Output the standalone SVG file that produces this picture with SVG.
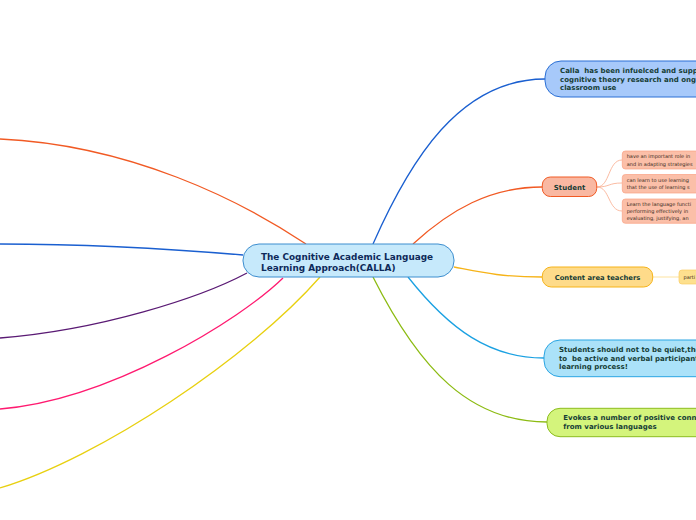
<svg xmlns="http://www.w3.org/2000/svg" width="696" height="520" viewBox="0 0 696 520">
<style>
.c{fill:none;stroke-width:1.3}
.t{font-family:"DejaVu Sans",Verdana,sans-serif;font-weight:bold;fill:#163d36;white-space:pre}
.s{font-family:"DejaVu Sans",Verdana,sans-serif;font-size:5px;fill:#3a2a20}
</style>
<rect width="696" height="520" fill="#ffffff"/>
<g id="connectors">
<path class="c" stroke="#f15a24" d="M306,244 C240,200 130,145 0,139"/>
<path class="c" stroke="#1a5fd0" d="M243,255 C160,248 80,244 0,244"/>
<path class="c" stroke="#5a1a74" d="M247,273 C200,298 100,330 0,338"/>
<path class="c" stroke="#ff1a70" d="M283,278 C240,320 110,400 0,409"/>
<path class="c" stroke="#e8d010" d="M320,277 C250,357 100,458 0,488"/>
<path class="c" stroke="#1a5fd0" d="M373,244 C410,160 460,79 545,79"/>
<path class="c" stroke="#f15a24" d="M413,244 C450,210 490,187 542,187"/>
<path class="c" stroke="#f6b318" d="M454,267 C480,272 500,277 542,277"/>
<path class="c" stroke="#1ba1e2" d="M408,277 C450,330 490,358 544,358"/>
<path class="c" stroke="#8cbb12" d="M373,277 C420,370 470,422 547,422"/>
<path fill="none" stroke="#f9a98a" stroke-width="0.8" d="M597,187 C610,187 608,160 622,160 M597,187 C610,187 608,183 622,183 M597,187 C610,187 608,211 622,211"/>
<path fill="none" stroke="#fde3a0" stroke-width="1" d="M653,277 L679,277"/>
</g>
<g id="central">
<rect x="243" y="244" width="211" height="33" rx="16" fill="#c6e9fb" stroke="#3d8ecf" stroke-width="1"/>
<text font-family="DejaVu Sans,Verdana,sans-serif" font-weight="bold" font-size="8.9" fill="#0e2a5a"><tspan x="261" y="259.5">The Cognitive Academic Language</tspan><tspan x="261" y="271">Learning Approach(CALLA)</tspan></text>
</g>
<g id="calla">
<rect x="545" y="61" width="180" height="36" rx="16" fill="#a7c9fa" stroke="#2a6fd5" stroke-width="1"/>
<text class="t" font-size="7" xml:space="preserve"><tspan x="560" y="73.3">Calla  has been infuelced and supp</tspan><tspan x="560" y="81.7">cognitive theory research and onge</tspan><tspan x="560" y="90">classroom use</tspan></text>
</g>
<g id="student">
<rect x="542.3" y="177" width="54.4" height="19.5" rx="8" fill="#f9b8a2" stroke="#f15a24" stroke-width="1"/>
<text class="t" font-size="7" x="569.5" y="189.8" text-anchor="middle">Student</text>
</g>
<g id="student-child-1">
<rect x="622.3" y="151" width="90" height="18" rx="3" fill="#fbbfa8" stroke="#f9a183" stroke-width="0.7"/>
<text class="s"><tspan x="626.7" y="158.3">have an important role in</tspan><tspan x="626.7" y="165.7">and in adapting strategies</tspan></text>
</g>
<g id="student-child-2">
<rect x="622.3" y="174.5" width="90" height="18.5" rx="3" fill="#fbbfa8" stroke="#f9a183" stroke-width="0.7"/>
<text class="s"><tspan x="626.7" y="182.3">can learn to use learning</tspan><tspan x="626.7" y="189.3">that the use of learning s</tspan></text>
</g>
<g id="student-child-3">
<rect x="622.3" y="199" width="90" height="24.3" rx="3" fill="#fbbfa8" stroke="#f9a183" stroke-width="0.7"/>
<text class="s"><tspan x="626.7" y="205.7">Learn the language functi</tspan><tspan x="626.7" y="213">performing effectively in</tspan><tspan x="626.7" y="220.3">evaluating, justifying, an</tspan></text>
</g>
<g id="content-teachers">
<rect x="542.3" y="267" width="110.4" height="20" rx="9" fill="#fedb8a" stroke="#f6b318" stroke-width="1"/>
<text class="t" font-size="6.8" x="597.5" y="279.5" text-anchor="middle">Content area teachers</text>
</g>
<g id="content-child">
<rect x="679" y="270" width="40" height="14" rx="3" fill="#fde08e" stroke="#f9cd66" stroke-width="0.7"/>
<text class="s" x="683.5" y="279">parti</text>
</g>
<g id="students-active">
<rect x="544" y="340" width="180" height="36.7" rx="16" fill="#abe2f9" stroke="#2aa5e3" stroke-width="1"/>
<text class="t" font-size="7" xml:space="preserve"><tspan x="559" y="352.3">Students should not to be quiet,the</tspan><tspan x="559" y="361">to  be active and verbal participant</tspan><tspan x="559" y="369.3">learning process!</tspan></text>
</g>
<g id="evokes">
<rect x="547" y="408.3" width="180" height="28.4" rx="13" fill="#d4f47c" stroke="#8cbd1f" stroke-width="1"/>
<text class="t" font-size="7"><tspan x="563.3" y="420">Evokes a number of positive conne</tspan><tspan x="563.3" y="429">from various languages</tspan></text>
</g>
</svg>
